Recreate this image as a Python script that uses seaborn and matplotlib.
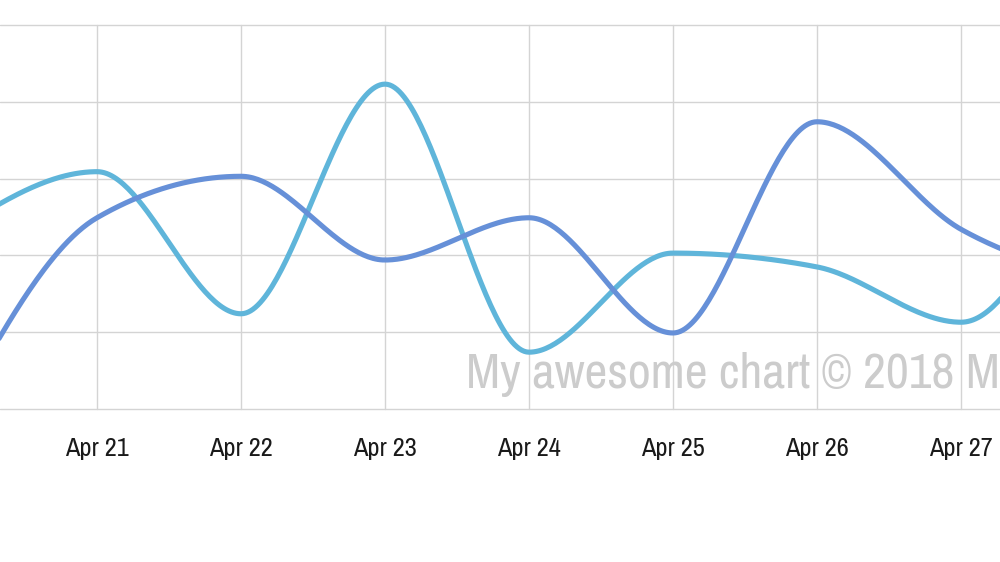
import numpy as np
import pandas as pd
import matplotlib
matplotlib.use("Agg")
import matplotlib.pyplot as plt
import matplotlib.dates as mdates
import seaborn as sns

# ---- data ----
dates = ["2018-04-20", "2018-04-21", "2018-04-22", "2018-04-23", "2018-04-24",
         "2018-04-25", "2018-04-26", "2018-04-27", "2018-04-28"]
series_a = [46.0, 61.8, 24.8, 84.6, 14.8, 40.6, 37.0, 22.6, 82.0]   # light blue
series_b = [-3.0, 49.8, 60.6, 38.8, 49.8, 19.8, 74.8, 46.8, 33.0]   # dark blue
series_names = ["Series A", "Series B"]
colors = ["#5fb5da", "#6690d8"]
watermark = "My awesome chart \u00a9 2018 M"


def monotone_x(x, y, n=60):
    """d3 curveMonotoneX (Steffen) interpolation."""
    x = np.asarray(x, float)
    y = np.asarray(y, float)
    k = len(x)
    h = np.diff(x)
    s = np.diff(y) / h
    m = np.zeros(k)
    for i in range(1, k - 1):
        h0, h1 = h[i - 1], h[i]
        s0, s1 = s[i - 1], s[i]
        p = (s0 * h1 + s1 * h0) / (h0 + h1)
        m[i] = (np.sign(s0) + np.sign(s1)) * min(abs(s0), abs(s1), 0.5 * abs(p))
    m[0] = (3 * s[0] - m[1]) / 2
    m[-1] = (3 * s[-1] - m[-2]) / 2
    xs, ys = [], []
    for i in range(k - 1):
        t = np.linspace(0, 1, n, endpoint=(i == k - 2))
        h00 = 2 * t**3 - 3 * t**2 + 1
        h10 = t**3 - 2 * t**2 + t
        h01 = -2 * t**3 + 3 * t**2
        h11 = t**3 - t**2
        xs.append(x[i] + t * h[i])
        ys.append(h00 * y[i] + h10 * h[i] * m[i] + h01 * y[i + 1] + h11 * h[i] * m[i + 1])
    return np.concatenate(xs), np.concatenate(ys)


dnum = mdates.date2num(pd.to_datetime(dates))
frames = []
for name, vals in zip(series_names, [series_a, series_b]):
    xs, ys = monotone_x(dnum, vals)
    frames.append(pd.DataFrame({"date": mdates.num2date(xs), "value": ys, "series": name}))
df = pd.concat(frames, ignore_index=True)
df["date"] = pd.to_datetime(df["date"]).dt.tz_localize(None)

sns.set_theme(style="white")
plt.rcParams["font.family"] = ["Archivo Narrow", "DejaVu Sans"]

fig = plt.figure(figsize=(10, 5.62), dpi=100)
ax = fig.add_axes([0, 1 - 409 / 562, 1, (409 - 25) / 562])

sns.lineplot(data=df, x="date", y="value", hue="series", palette=colors,
             linewidth=3.7, legend=False, ax=ax, sort=False, estimator=None)

x0 = mdates.date2num(pd.Timestamp("2018-04-21")) - 97 / 144
x1 = mdates.date2num(pd.Timestamp("2018-04-21")) + (1000 - 97) / 144
ax.set_xlim(x0, x1)
ax.set_ylim(0, 100)
ax.set_yticks([0, 20, 40, 60, 80, 100])
ax.set_yticklabels([])
ax.xaxis.set_major_locator(mdates.DayLocator())
ax.xaxis.set_major_formatter(mdates.DateFormatter("%b %d"))
ax.grid(True, color="#d4d4d4", linewidth=1.0)
for gl in ax.get_ygridlines() + ax.get_xgridlines():
    gl.set_clip_on(False)
ax.tick_params(axis="x", length=0, pad=20, labelsize=19, labelcolor="#1a1a1a")
ax.tick_params(axis="y", length=0)
for sp in ax.spines.values():
    sp.set_visible(False)
ax.set_xlabel("")
ax.set_ylabel("")
ax.set_axisbelow(True)

fig.text(466 / 1000, 1 - 388 / 562, watermark, fontsize=36, color="#cccccc",
         ha="left", va="baseline", zorder=5)

fig.savefig("out.png", dpi=100)
